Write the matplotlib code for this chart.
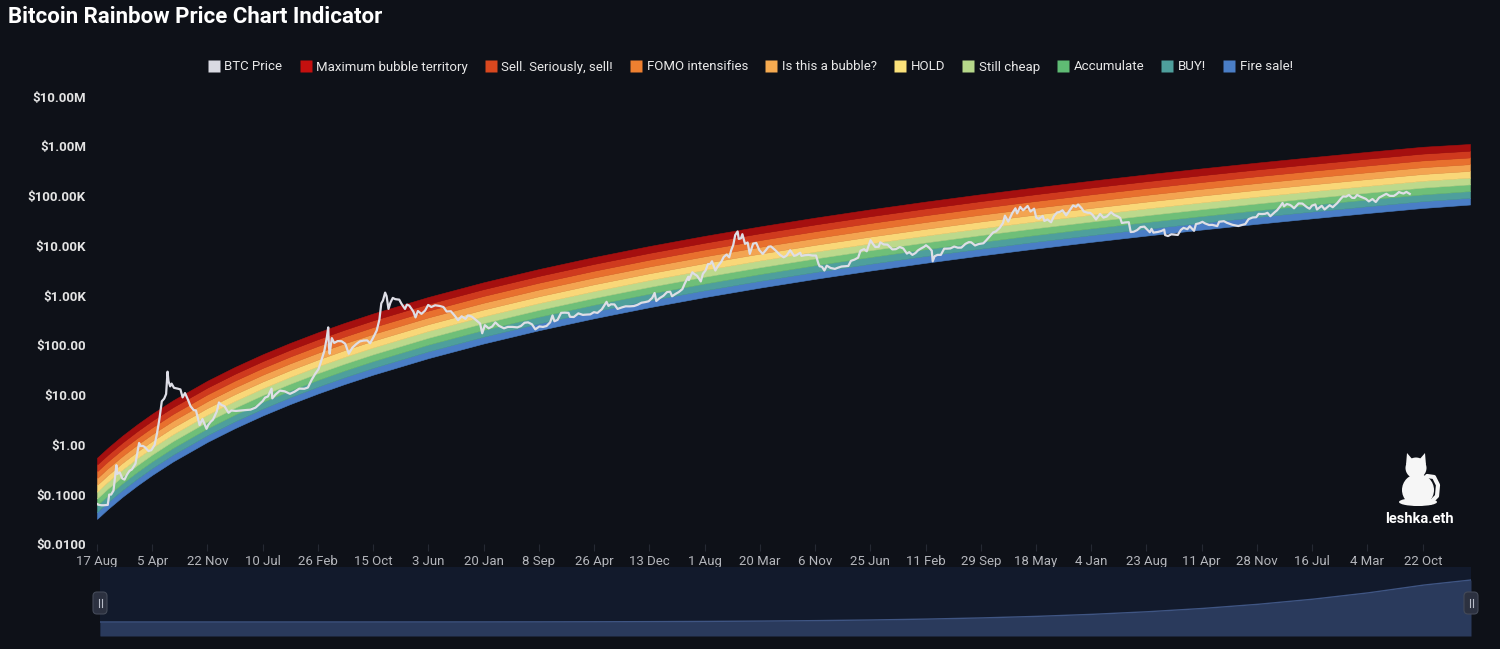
import matplotlib
matplotlib.use("Agg")
import matplotlib.pyplot as plt
import numpy as np
import pandas as pd
from matplotlib.lines import Line2D
from matplotlib.patches import FancyBboxPatch, Ellipse, Circle, Polygon

plt.rcParams["font.family"] = ["Roboto", "DejaVu Sans"]

# ---- data ----
band_names = ["Fire sale!", "BUY!", "Accumulate", "Still cheap", "HOLD",
              "Is this a bubble?", "FOMO intensifies", "Sell. Seriously, sell!",
              "Maximum bubble territory"]
band_colors = ["#4a7ec6", "#4e9f9c", "#6fbf78", "#bcd98c", "#f9d778",
               "#f3a451", "#e8702e", "#cf3a1e", "#a50f0f"]
legend_colors = ["#4a7ec6", "#4e9f9c", "#5fbb74", "#b6d88a", "#fbe27a",
                 "#f5aa50", "#ee8030", "#d9481f", "#c4100f"]

band_dates = ["2010-08-17", "2010-10-01", "2010-12-01", "2011-02-01", "2011-04-05",
              "2011-07-01", "2011-11-22", "2012-03-15", "2012-07-10", "2012-11-01",
              "2013-02-26", "2013-06-15", "2013-10-15", "2014-06-03", "2015-01-20",
              "2015-09-08", "2016-04-26", "2016-12-13", "2017-08-01", "2018-03-20",
              "2018-11-06", "2019-06-25", "2020-02-11", "2020-09-29", "2021-05-18",
              "2022-01-04", "2022-08-23", "2023-04-11", "2023-11-28", "2024-07-16",
              "2025-03-04", "2025-10-22", "2026-05-07"]
band_floor = [0.0324, 0.0511, 0.0900, 0.152, 0.249, 0.464, 1.148, 2.16, 3.90, 6.58,
              10.79, 16.54, 25.8, 55.4, 109.3, 201.5, 351.3, 584.9, 936, 1449,
              2179, 3194, 4579, 6433, 8877, 12050, 16130, 21310, 27810, 35880,
              45830, 58000, 68000]
band_top = [0.550, 0.868, 1.528, 2.58, 4.23, 7.88, 19.5, 36.7, 66.2, 111.7,
            183, 280.8, 438, 941, 1856, 3421, 5965, 9932, 15890, 24600,
            37000, 54230, 77750, 109200, 150700, 204600, 273900, 361800, 472200, 609200,
            778200, 984800, 1120000]

btc_dates = [
    "2010-08-17", "2010-08-25", "2010-09-05", "2010-09-15", "2010-10-01", "2010-10-07", "2010-10-15",
    "2010-10-25", "2010-11-06", "2010-11-10", "2010-11-20", "2010-12-01", "2010-12-10", "2010-12-20",
    "2010-12-31", "2011-01-10", "2011-01-25", "2011-02-09", "2011-02-15", "2011-02-25", "2011-03-05",
    "2011-03-20", "2011-04-01", "2011-04-15", "2011-04-25", "2011-05-05", "2011-05-15", "2011-05-25",
    "2011-06-02", "2011-06-08", "2011-06-12", "2011-06-19", "2011-06-25", "2011-07-05", "2011-07-20",
    "2011-08-01", "2011-08-10", "2011-08-20", "2011-09-01", "2011-09-12", "2011-09-25", "2011-10-05",
    "2011-10-20", "2011-11-01", "2011-11-18", "2011-11-25", "2011-12-05", "2011-12-15", "2011-12-31",
    "2012-01-09", "2012-01-20", "2012-02-01", "2012-02-18", "2012-03-01", "2012-03-20", "2012-04-10",
    "2012-05-01", "2012-05-20", "2012-06-10", "2012-06-25", "2012-07-10", "2012-07-20", "2012-08-01",
    "2012-08-16", "2012-08-19", "2012-09-01", "2012-09-20", "2012-10-10", "2012-11-01", "2012-11-20",
    "2012-12-10", "2012-12-31",
    "2013-01-15", "2013-01-31", "2013-02-15", "2013-02-28", "2013-03-10", "2013-03-25", "2013-04-04",
    "2013-04-10", "2013-04-13", "2013-04-16", "2013-04-25", "2013-05-05", "2013-05-20", "2013-06-05",
    "2013-06-20", "2013-07-05", "2013-07-20", "2013-08-05", "2013-08-20", "2013-09-05", "2013-09-20",
    "2013-10-02", "2013-10-15", "2013-10-30", "2013-11-10", "2013-11-18", "2013-11-25", "2013-12-04",
    "2013-12-10", "2013-12-18", "2013-12-26",
    "2014-01-05", "2014-01-15", "2014-02-01", "2014-02-10", "2014-02-25", "2014-03-05", "2014-03-15",
    "2014-04-01", "2014-04-10", "2014-04-20", "2014-05-05", "2014-05-20", "2014-06-02", "2014-06-15",
    "2014-07-01", "2014-07-20", "2014-08-05", "2014-08-18", "2014-09-05", "2014-09-20", "2014-10-05",
    "2014-10-20", "2014-11-05", "2014-11-15", "2014-12-01", "2014-12-20",
    "2015-01-05", "2015-01-14", "2015-01-25", "2015-02-10", "2015-02-25", "2015-03-10", "2015-03-25",
    "2015-04-15", "2015-05-01", "2015-05-20", "2015-06-10", "2015-06-25", "2015-07-10", "2015-07-25",
    "2015-08-10", "2015-08-24", "2015-09-10", "2015-09-25", "2015-10-10", "2015-10-25", "2015-11-04",
    "2015-11-12", "2015-11-25", "2015-12-10", "2015-12-25",
    "2016-01-10", "2016-01-16", "2016-02-01", "2016-02-20", "2016-03-10", "2016-03-25", "2016-04-10",
    "2016-04-25", "2016-05-10", "2016-05-28", "2016-06-17", "2016-06-25", "2016-07-05", "2016-07-20",
    "2016-08-02", "2016-08-20", "2016-09-05", "2016-09-20", "2016-10-10", "2016-10-25", "2016-11-10",
    "2016-11-25", "2016-12-10", "2016-12-25",
    "2017-01-04", "2017-01-11", "2017-01-25", "2017-02-10", "2017-02-25", "2017-03-10", "2017-03-18",
    "2017-04-01", "2017-04-15", "2017-04-30", "2017-05-10", "2017-05-25", "2017-05-27", "2017-06-11",
    "2017-06-20", "2017-07-01", "2017-07-16", "2017-07-25", "2017-08-05", "2017-08-15", "2017-08-25",
    "2017-09-01", "2017-09-15", "2017-09-25", "2017-10-10", "2017-10-20", "2017-11-01", "2017-11-12",
    "2017-11-20", "2017-11-29", "2017-12-07", "2017-12-17", "2017-12-22", "2017-12-31",
    "2018-01-06", "2018-01-17", "2018-01-28", "2018-02-06", "2018-02-20", "2018-03-05", "2018-03-18",
    "2018-04-01", "2018-04-15", "2018-04-25", "2018-05-05", "2018-05-20", "2018-06-01", "2018-06-12",
    "2018-06-28", "2018-07-10", "2018-07-25", "2018-08-10", "2018-08-20", "2018-09-05", "2018-09-10",
    "2018-09-25", "2018-10-10", "2018-10-25", "2018-11-10", "2018-11-20", "2018-11-25", "2018-12-05",
    "2018-12-15", "2018-12-25",
    "2019-01-10", "2019-01-28", "2019-02-10", "2019-02-25", "2019-03-10", "2019-03-25", "2019-04-05",
    "2019-04-20", "2019-05-05", "2019-05-15", "2019-05-30", "2019-06-10", "2019-06-26", "2019-07-05",
    "2019-07-16", "2019-07-30", "2019-08-06", "2019-08-20", "2019-09-05", "2019-09-25", "2019-10-10",
    "2019-10-26", "2019-11-10", "2019-11-25", "2019-12-05", "2019-12-18", "2019-12-31",
    "2020-01-10", "2020-01-20", "2020-02-05", "2020-02-13", "2020-02-25", "2020-03-08", "2020-03-12",
    "2020-03-20", "2020-04-01", "2020-04-15", "2020-04-29", "2020-05-10", "2020-05-25", "2020-06-10",
    "2020-06-25", "2020-07-10", "2020-07-27", "2020-08-10", "2020-08-20", "2020-09-05", "2020-09-20",
    "2020-10-10", "2020-10-21", "2020-11-05", "2020-11-20", "2020-12-01", "2020-12-17", "2020-12-31",
    "2021-01-08", "2021-01-22", "2021-02-08", "2021-02-21", "2021-02-28", "2021-03-13", "2021-03-25",
    "2021-04-13", "2021-04-25", "2021-05-10", "2021-05-19", "2021-05-30", "2021-06-15", "2021-06-22",
    "2021-07-05", "2021-07-20", "2021-08-01", "2021-08-14", "2021-08-25", "2021-09-06", "2021-09-21",
    "2021-10-05", "2021-10-20", "2021-11-01", "2021-11-10", "2021-11-25", "2021-12-04", "2021-12-20",
    "2021-12-31",
    "2022-01-10", "2022-01-24", "2022-02-10", "2022-02-24", "2022-03-10", "2022-03-28", "2022-04-10",
    "2022-04-25", "2022-05-05", "2022-05-12", "2022-05-25", "2022-06-10", "2022-06-18", "2022-07-01",
    "2022-07-15", "2022-07-29", "2022-08-14", "2022-08-25", "2022-09-06", "2022-09-13", "2022-09-21",
    "2022-10-10", "2022-10-25", "2022-11-05", "2022-11-09", "2022-11-21", "2022-12-05", "2022-12-20",
    "2023-01-01", "2023-01-14", "2023-01-25", "2023-02-10", "2023-02-20", "2023-03-10", "2023-03-18",
    "2023-04-01", "2023-04-14", "2023-04-25", "2023-05-12", "2023-05-25", "2023-06-15", "2023-06-23",
    "2023-07-13", "2023-07-25", "2023-08-17", "2023-09-11", "2023-09-25", "2023-10-10", "2023-10-24",
    "2023-11-10", "2023-11-25", "2023-12-05", "2023-12-20",
    "2024-01-01", "2024-01-11", "2024-01-23", "2024-02-10", "2024-02-20", "2024-03-05", "2024-03-14",
    "2024-03-20", "2024-04-01", "2024-04-13", "2024-04-20", "2024-05-01", "2024-05-20", "2024-06-05",
    "2024-06-24", "2024-07-05", "2024-07-15", "2024-07-29", "2024-08-05", "2024-08-25", "2024-09-06",
    "2024-09-27", "2024-10-10", "2024-10-29", "2024-11-12", "2024-11-22", "2024-12-05", "2024-12-17",
    "2024-12-30",
    "2025-01-09", "2025-01-20", "2025-02-03", "2025-02-25", "2025-03-10", "2025-03-25", "2025-04-08",
    "2025-04-22", "2025-05-10", "2025-05-22", "2025-06-05", "2025-06-22", "2025-07-03", "2025-07-14",
    "2025-07-25", "2025-08-02", "2025-08-14", "2025-08-28"]
btc_prices = [
    0.065, 0.062, 0.061, 0.061, 0.062, 0.10, 0.10,
    0.12, 0.39, 0.26, 0.28, 0.21, 0.20, 0.25,
    0.30, 0.32, 0.42, 1.09, 0.95, 0.95, 0.90,
    0.75, 0.78, 1.00, 1.70, 3.30, 7.5, 8.5,
    10.5, 29.6, 19, 15, 17, 14, 13.5,
    13, 9, 11, 8.2, 6, 5, 4.9,
    2.5, 3.3, 2.1, 2.5, 2.9, 3.2, 4.7,
    7.1, 6.3, 6.0, 4.4, 4.9, 4.8, 4.9,
    5.0, 5.1, 5.6, 6.5, 7.6, 8.9, 9.4,
    13.5, 8.6, 10.2, 12.3, 11.9, 10.6, 11.7,
    13.5, 13.4,
    14.2, 20.4, 27, 33, 46, 78, 143,
    230, 95, 68, 140, 112, 122, 121,
    108, 68, 90, 106, 120, 125, 126,
    110, 143, 200, 330, 700, 800, 1150,
    980, 540, 720,
    900, 850, 830, 690, 540, 660, 630,
    480, 365, 490, 430, 500, 650, 590,
    640, 620, 590, 480, 485, 400, 320,
    385, 340, 400, 380, 320,
    275, 175, 255, 220, 240, 290, 247,
    220, 235, 235, 230, 245, 285, 290,
    265, 210, 240, 235, 245, 290, 400,
    305, 325, 450, 455,
    450, 375, 372, 440, 410, 416, 420,
    465, 450, 530, 750, 620, 670, 665,
    540, 580, 610, 608, 618, 655, 720,
    740, 770, 900,
    1130, 780, 890, 995, 1180, 1200, 970,
    1080, 1180, 1350, 1750, 2400, 2050, 2950,
    2700, 2500, 1930, 2750, 3200, 4300, 4350,
    4900, 3200, 3900, 4800, 6000, 6700, 5900,
    8100, 10500, 16500, 19500, 13800, 14200,
    17200, 11000, 11700, 6900, 11100, 11500, 8200,
    6900, 8300, 9600, 9800, 8500, 7500, 6600,
    5900, 6400, 8200, 6300, 6500, 7300, 6300,
    6500, 6600, 6400, 6400, 4400, 3900, 3800,
    3200, 4000,
    3600, 3450, 3650, 3850, 3900, 3950, 5000,
    5300, 5800, 8000, 8600, 7800, 13000, 11100,
    9500, 9600, 11800, 10700, 10600, 8500, 8600,
    9500, 8900, 7000, 7500, 6600, 7200,
    8100, 8700, 9600, 10300, 9300, 8000, 4900,
    6200, 6600, 6600, 8800, 8800, 8900, 9700,
    9200, 9250, 11000, 11900, 11800, 10200, 10900,
    11300, 12800, 15500, 18700, 19500, 23000, 29000,
    40500, 30800, 46000, 57000, 45000, 61000, 52000,
    63500, 49000, 56000, 37000, 35000, 40000, 31700,
    34000, 29800, 39800, 47000, 48000, 52000, 41000,
    51000, 65000, 61000, 68000, 57000, 49000, 46500,
    46200,
    41800, 34000, 44000, 37000, 39000, 47500, 42000,
    39000, 36500, 28900, 29600, 30000, 19000, 19300,
    20800, 23900, 24400, 21500, 18800, 22000, 18500,
    19100, 20000, 21300, 16500, 15800, 17100, 16800,
    16600, 21000, 23000, 21700, 24800, 20100, 27500,
    28500, 30500, 28300, 26300, 26500, 25000, 30600,
    31400, 29200, 26600, 25100, 26300, 27400, 34500,
    37300, 37700, 44000, 43700,
    44200, 46300, 39500, 47500, 52000, 63000, 73000,
    62500, 69600, 67000, 64000, 57000, 71400, 71000,
    60000, 56000, 64500, 68200, 54000, 64000, 54000,
    65800, 60000, 72700, 88000, 98900, 98000, 106000,
    92500,
    92000, 106000, 97700, 88600, 78500, 87500, 76300,
    93500, 104000, 111500, 101500, 101000, 109000, 121000,
    115500, 113000, 122000, 111000]

tick_dates = ["2010-08-17", "2011-04-05", "2011-11-22", "2012-07-10", "2013-02-26",
              "2013-10-15", "2014-06-03", "2015-01-20", "2015-09-08", "2016-04-26",
              "2016-12-13", "2017-08-01", "2018-03-20", "2018-11-06", "2019-06-25",
              "2020-02-11", "2020-09-29", "2021-05-18", "2022-01-04", "2022-08-23",
              "2023-04-11", "2023-11-28", "2024-07-16", "2025-03-04", "2025-10-22"]
tick_labels = ["17 Aug", "5 Apr", "22 Nov", "10 Jul", "26 Feb", "15 Oct", "3 Jun",
               "20 Jan", "8 Sep", "26 Apr", "13 Dec", "1 Aug", "20 Mar", "6 Nov",
               "25 Jun", "11 Feb", "29 Sep", "18 May", "4 Jan", "23 Aug", "11 Apr",
               "28 Nov", "16 Jul", "4 Mar", "22 Oct"]
y_ticks = [0.01, 0.1, 1, 10, 100, 1e3, 1e4, 1e5, 1e6, 1e7]
y_labels = ["$0.0100", "$0.1000", "$1.00", "$10.00", "$100.00", "$1.00K",
            "$10.00K", "$100.00K", "$1.00M", "$10.00M"]

# ---- figure ----
W, H = 1500, 649
bg = "#0e1118"
fig = plt.figure(figsize=(15, 6.49), dpi=100, facecolor=bg)

ax = fig.add_axes([97 / W, 1 - 544.3 / H, 1373 / W, (544.3 - 96.7) / H])
ax.set_facecolor(bg)
ax.set_yscale("log")

bd = pd.to_datetime(band_dates)
lf = np.log10(np.array(band_floor))
lt = np.log10(np.array(band_top))
edges = [10 ** (lf + (lt - lf) * k / 9) for k in range(10)]
for k in range(9):
    ax.fill_between(bd, edges[k], edges[k + 1], color=band_colors[k],
                    lw=0.4, edgecolor=band_colors[k], zorder=2)

ax.plot(pd.to_datetime(btc_dates), btc_prices, color="#dedee6", lw=1.6, zorder=3)

ax.set_ylim(0.01, 1e7)
ax.set_xlim(bd[0], bd[-1])
ax.set_yticks(y_ticks)
ax.set_yticklabels(y_labels)
ax.minorticks_off()
ax.set_xticks(pd.to_datetime(tick_dates))
ax.set_xticklabels(tick_labels)
ax.tick_params(axis="y", length=0, pad=8, labelsize=9.5, labelcolor="#e4e4e4")
for t in ax.get_yticklabels():
    t.set_fontweight("bold")
ax.tick_params(axis="x", length=5, color="#252933", pad=3, labelsize=9.5,
               labelcolor="#b4b6bc")
for s in ax.spines.values():
    s.set_visible(False)

# legend
handles = [Line2D([], [], ls="none", marker="s", ms=9, mfc="#d9dae2", mec="none")]
labels = ["BTC Price"]
for k in range(8, -1, -1):
    handles.append(Line2D([], [], ls="none", marker="s", ms=9,
                          mfc=legend_colors[k], mec="none"))
    labels.append(band_names[k])
fig.legend(handles, labels, loc="center", bbox_to_anchor=(0.5, 1 - 67 / H),
           ncol=10, frameon=False, fontsize=9.5, labelcolor="#e8e8e8",
           handletextpad=0.3, columnspacing=1.25, handlelength=1.0)

# slider at the bottom
sx = fig.add_axes([100 / W, 1 - 636 / H, 1371 / W, 69 / H])
sx.set_facecolor("#121a2c")
tops = np.array(band_top)
M = tops.max()
lo = -14 / 42 * M
sx.fill_between(bd, lo, tops, color="#2a3a5c", lw=0)
sx.plot(bd, tops, color="#3f5583", lw=1.0)
sx.set_xlim(bd[0], bd[-1])
sx.set_ylim(lo, lo + 69 / 42 * M)
sx.set_xticks([])
sx.set_yticks([])
for s in sx.spines.values():
    s.set_visible(False)

# overlay in pixel units for title, handles and watermark
ov = fig.add_axes([0, 0, 1, 1], facecolor="none")
ov.set_xlim(0, W)
ov.set_ylim(H, 0)
ov.axis("off")

ov.text(8, 17, "Bitcoin Rainbow Price Chart Indicator", color="white",
        fontsize=16, fontweight="bold", va="center", ha="left")

for hx in (100, 1471):
    ov.add_patch(FancyBboxPatch((hx - 7, 592), 14, 22,
                                boxstyle="round,pad=0,rounding_size=4",
                                fc="#2c3140", ec="#444a58", lw=0.8))
    ov.plot([hx - 1.5, hx - 1.5], [599, 607], color="#b8bcc8", lw=0.8)
    ov.plot([hx + 1.5, hx + 1.5], [599, 607], color="#b8bcc8", lw=0.8)

# cat watermark
cat = "#f6f6f6"
ov.add_patch(Ellipse((1418, 490), 32, 32, fc=cat, ec="none"))
ov.add_patch(Ellipse((1418, 502), 38, 8, fc=cat, ec="none"))
ov.add_patch(Circle((1416, 468), 10.5, fc=cat, ec="none"))
ov.add_patch(Polygon([[1406, 465], [1407, 453], [1413, 460]], fc=cat, ec="none"))
ov.add_patch(Polygon([[1419, 460], [1425, 453], [1426, 465]], fc=cat, ec="none"))
ov.plot([1430, 1437, 1438, 1434, 1427], [503, 496, 485, 477, 476],
        color=cat, lw=3, solid_capstyle="round")
ov.text(1419, 519, "leshka.eth", color="white", fontsize=10.5,
        fontweight="bold", ha="center", va="center")

fig.savefig("out.png", dpi=100, facecolor=bg)
